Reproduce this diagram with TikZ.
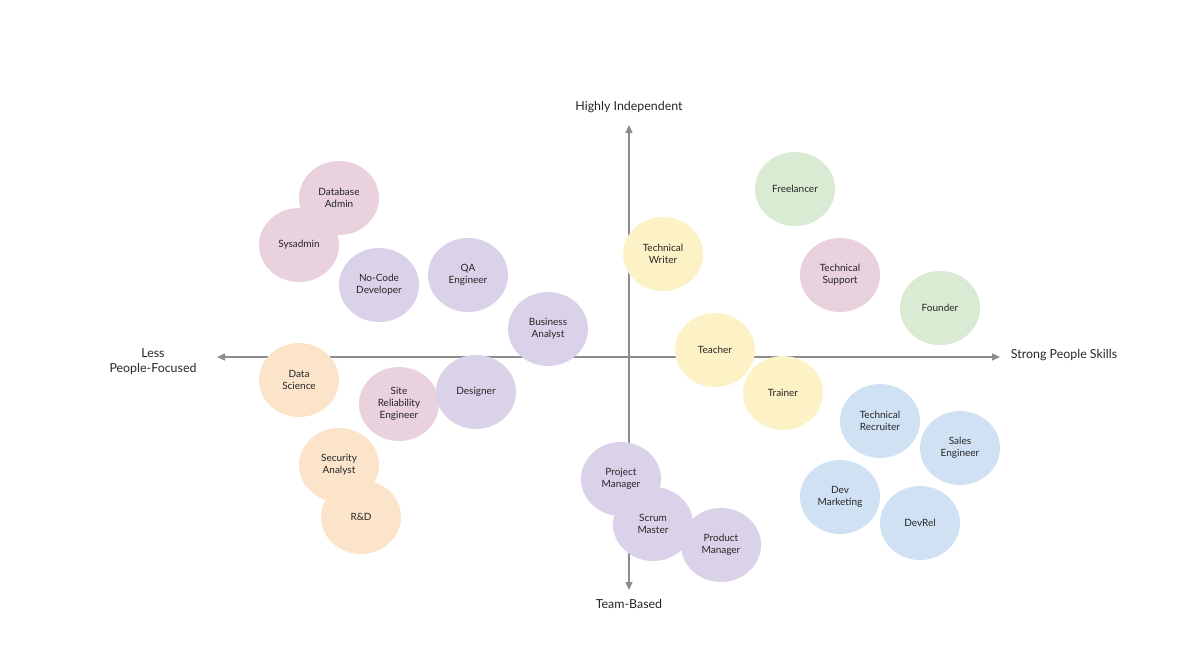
\documentclass[tikz,border=0pt]{standalone}
\usepackage{fontspec}
\setmainfont{Lato}
\usetikzlibrary{arrows.meta}
\definecolor{cpink}{HTML}{E9D1DD}
\definecolor{clav}{HTML}{DAD2E9}
\definecolor{corg}{HTML}{FBE4CA}
\definecolor{cyel}{HTML}{FDF1C6}
\definecolor{cgrn}{HTML}{D9EBD3}
\definecolor{cblu}{HTML}{D0E1F3}
\definecolor{axisc}{HTML}{8C8C8C}
\tikzset{
 role/.style={ellipse, minimum width=40pt, minimum height=37pt, inner sep=0pt, align=center, font=\fontsize{5pt}{6pt}\selectfont, text=black!85},
 axisline/.style={draw=axisc, line width=0.7pt, -{Triangle[length=4pt,width=3.5pt]}},
 axlabel/.style={font=\fontsize{6.2pt}{7.5pt}\selectfont, align=center, text=black!85}
}
\usetikzlibrary{shapes.geometric}
\begin{document}
\begin{tikzpicture}[x=0.5pt,y=-0.5pt]
\useasboundingbox (0,0) rectangle (1200,644);
\coordinate (o) at (629,357);
\coordinate (l) at (217,357);
\coordinate (r) at (1000,357);
\coordinate (t) at (629,125);
\coordinate (b) at (629,590);
\draw[axisline] (o) -- (l);
\draw[axisline] (o) -- (r);
\draw[axisline] (o) -- (t);
\draw[axisline] (o) -- (b);
\node[axlabel] (lt) at (629,107) {Highly Independent};
\node[axlabel] (lb) at (629,604) {Team-Based};
\node[axlabel] (ll) at (153,362) {Less\\People-Focused};
\node[axlabel] (lr) at (1064,355) {Strong People Skills};
\foreach \n/\x/\y/\c/\t in {
 a/339/198/cpink/{Database\\Admin},
 b/299/245/cpink/{Sysadmin},
 c/379/285/clav/{No-Code\\Developer},
 d/468/275/clav/{QA\\Engineer},
 e/548/329/clav/{Business\\Analyst},
 f/299/380/corg/{Data\\Science},
 g/399/404/cpink/{Site\\Reliability\\Engineer},
 h/476/392/clav/{Designer},
 i/339/465/corg/{Security\\Analyst},
 j/361/517/corg/{R\&D},
 k/663/254/cyel/{Technical\\Writer},
 m/795/189/cgrn/{Freelancer},
 n/840/275/cpink/{Technical\\Support},
 p/940/308/cgrn/{Founder},
 q/715/350/cyel/{Teacher},
 s/783/393/cyel/{Trainer},
 u/880/421/cblu/{Technical\\Recruiter},
 v/960/448/cblu/{Sales\\Engineer},
 w/840/497/cblu/{Dev\\Marketing},
 x/920/523/cblu/{DevRel},
 y/621/479/clav/{Project\\Manager},
 z/653/524/clav/{Scrum\\Master},
 zz/721/545/clav/{Product\\Manager}}
 {\node[role, fill=\c] (\n) at (\x,\y) {\t};}
\end{tikzpicture}
\end{document}
